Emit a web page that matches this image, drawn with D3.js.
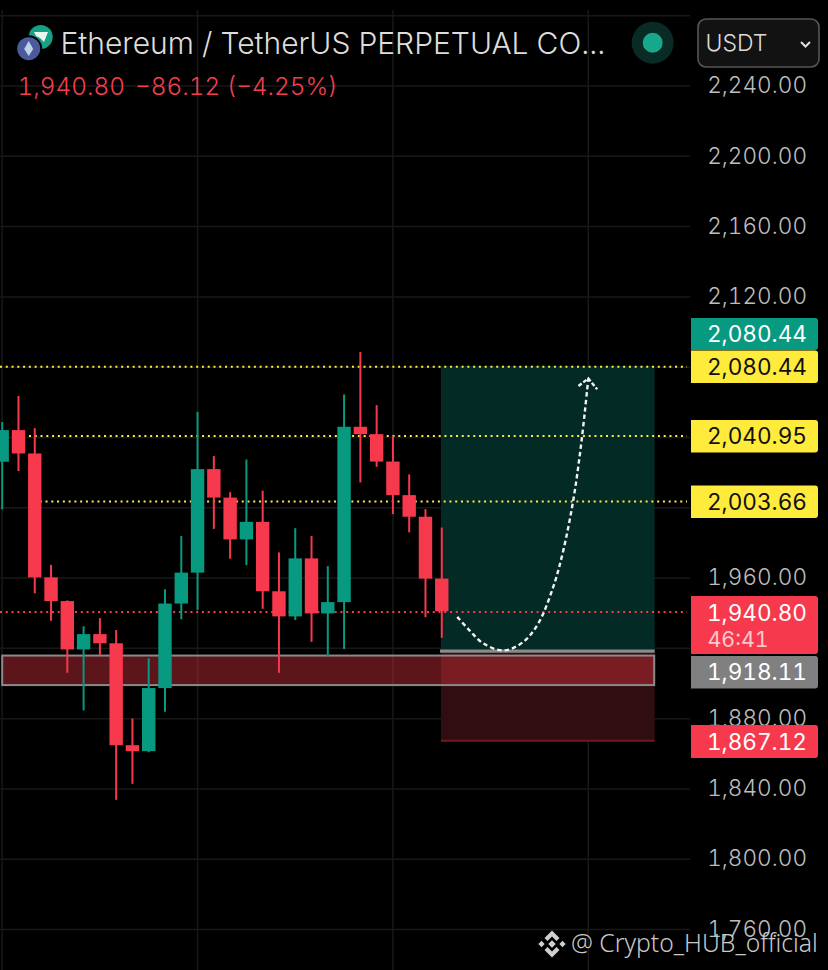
<!DOCTYPE html>
<html><head><meta charset="utf-8">
<script src="https://cdn.jsdelivr.net/npm/d3@7"></script>
<style>html,body{margin:0;padding:0;background:#000;overflow:hidden}svg{display:block}text{font-family:Inter,sans-serif;font-variant-numeric:tabular-nums;font-feature-settings:"tnum" 1}</style>
</head><body><svg id="c" width="828" height="970"></svg>
<script>
const opens  = [2025.9,2043.9,2030.6,1960.1,1946.6,1919.1,1927.8,1922.6,1864.6,1861.2,1897.1,1945.2,1962.8,2021.7,2005.5,1981.7,1991.7,1952.2,1937.9,1970.9,1939.6,1946.0,2045.8,2041.6,2026.0,2006.9,1994.6,1959.4];
const closes = [2043.9,2030.6,1960.1,1946.6,1919.1,1927.8,1922.6,1864.6,1861.2,1897.1,1945.2,1962.8,2021.7,2005.5,1981.7,1991.7,1952.2,1937.9,1970.9,1939.6,1946.0,2045.8,2041.6,2026.0,2006.9,1994.6,1959.4,1940.8];
const highs  = [2048.5,2063.3,2045.0,1967.2,1947.0,1932.3,1936.9,1930.1,1879.8,1914.1,1953.4,1983.6,2054.3,2029.1,2008.6,2027.2,2009.4,1974.3,1988.1,1983.6,1966.5,2064.2,2088.3,2058.1,2040.5,2018.7,1998.9,1988.5];
const lows   = [1998.8,2020.6,1951.0,1935.4,1905.8,1884.4,1916.0,1833.5,1842.6,1860.6,1883.6,1936.2,1941.6,1987.7,1970.7,1967.1,1942.2,1905.8,1935.8,1923.4,1915.3,1919.3,2014.1,2023.0,1996.1,1985.7,1937.5,1925.7];
const gridPrices = [2280,2240,2200,2160,2120,2080,2040,2000,1960,1920,1880,1840,1800,1760];
const tickLabels = [2240,2200,2160,2120,1960,1880,1840,1800,1760];
const gridBars = [0,12,24,36];
const pathBars   = [27.95,28.73,29.55,30.82,32.01,32.93,33.85,34.47,35.08,35.49,35.8,36.0];
const pathPrices = [1937.6,1929.7,1922.5,1918.5,1923.4,1933.9,1954.7,1975.6,2004.1,2030.6,2055.3,2073.3];
const headBars   = [35.4,36.0,36.55];
const headPrices = [2069,2073.3,2067.1];
const target = 2080.44, mid = 2040.95, low = 2003.66, last = 1940.80, entry = 1918.11, stop = 1867.12;
const zoneTop = 1915.6, zoneBottom = 1898.8;
const RED="#f7394d", GREEN="#089981", YELLOW="#ffeb3b", GREY="#808080";

const svg=d3.select("#c");
const x=d3.scaleLinear().domain([0,40]).range([2.2,653.4]);
const y=d3.scaleLinear().domain([2240,1760]).range([85.5,929]);
const fmt=d3.format(",.2f");
const W=690;

// grid
svg.append("g").selectAll("line").data(gridPrices).join("line")
 .attr("x1",0).attr("x2",W).attr("y1",d=>y(d)+.5).attr("y2",d=>y(d)+.5).attr("stroke","#181818").attr("stroke-width",1.5);
svg.append("g").selectAll("line").data(gridBars).join("line")
 .attr("x1",d=>x(d)).attr("x2",d=>x(d)).attr("y1",10).attr("y2",970).attr("stroke","#181818").attr("stroke-width",1.5);

// position boxes
const bx0=x(26.95), bx1=x(40.08);
svg.append("rect").attr("x",bx0).attr("width",bx1-bx0).attr("y",y(target)).attr("height",y(entry)-y(target)).attr("fill","#032a24");
svg.append("rect").attr("x",bx0).attr("width",bx1-bx0).attr("y",y(entry)).attr("height",y(stop)-y(entry)).attr("fill","#300d10");
svg.append("line").attr("x1",bx0).attr("x2",bx1).attr("y1",y(stop)).attr("y2",y(stop)).attr("stroke","#6e1a22").attr("stroke-width",2);

// dotted levels
const dotted=[[target,YELLOW,0],[mid,YELLOW,29],[low,YELLOW,34],[last,RED,0]];
svg.append("g").attr("transform","translate(0,0.8)").selectAll("line").data(dotted).join("line")
 .attr("x1",d=>d[2]).attr("x2",W-3).attr("y1",d=>y(d[0])).attr("y2",d=>y(d[0]))
 .attr("stroke",d=>d[1]).attr("stroke-width",2).attr("stroke-dasharray","2 3.77");

// zone
svg.append("rect").attr("x",x(0)).attr("width",bx1-x(0)-.5).attr("y",y(zoneTop)).attr("height",y(zoneBottom)-y(zoneTop))
 .attr("fill","rgba(242,54,69,.38)").attr("stroke","#8a8a8a").attr("stroke-width",2);

// entry line
svg.append("line").attr("x1",bx0-1).attr("x2",bx1).attr("y1",y(entry)).attr("y2",y(entry)).attr("stroke","#8a8a8a").attr("stroke-width",3.4);

// candles
const idx=d3.range(opens.length);
const col=i=>closes[i]>=opens[i]?GREEN:RED;
const g=svg.append("g");
g.selectAll("line").data(idx).join("line")
 .attr("x1",x).attr("x2",x).attr("y1",i=>y(highs[i])).attr("y2",i=>y(lows[i])).attr("stroke",col).attr("stroke-width",2);
g.selectAll("rect").data(idx).join("rect")
 .attr("x",i=>x(i)-6.7).attr("width",13.4)
 .attr("y",i=>y(Math.max(opens[i],closes[i]))).attr("height",i=>Math.abs(y(opens[i])-y(closes[i])))
 .attr("fill",col);

// projected path
const line=d3.line().curve(d3.curveCatmullRom).x(d=>x(d[0])).y(d=>y(d[1]));
svg.append("path").attr("d",line(d3.zip(pathBars,pathPrices))).attr("fill","none").attr("stroke","#f2f2f2").attr("stroke-width",2.4).attr("stroke-dasharray","4.5 3");
svg.append("path").attr("d",d3.line().x(d=>x(d[0])).y(d=>y(d[1]))(d3.zip(headBars,headPrices))).attr("fill","none").attr("stroke","#f2f2f2").attr("stroke-width",2.4).attr("stroke-dasharray","4 2");

// axis
const axis=d3.axisRight(y).tickValues(tickLabels).tickFormat(fmt).tickSize(0).tickPadding(117);
const ag=svg.append("g").attr("transform",`translate(${W},0)`).call(axis);
ag.select(".domain").remove();
ag.selectAll("text").attr("text-anchor","end").attr("fill","#bdbdbd").style("font-size","22.6px").style("font-family","Inter,sans-serif").style("font-weight","300");

// price labels
const labels=[[target,GREEN,"#fff",318,32],[target,YELLOW,"#111",350.5,32.5],[mid,YELLOW,"#111",420,32.5],[low,YELLOW,"#111",485.5,32.5],[entry,GREY,"#fff",656,32.5],[stop,RED,"#fff",725,33]];
const lab=svg.append("g");
function tag(top,h,fill){lab.append("path").attr("d",`M691,${top}H815a3,3 0 0 1 3,3V${top+h-3}a3,3 0 0 1 -3,3H691Z`).attr("fill",fill);}
function txt(s,yy,fill){lab.append("text").attr("x",807).attr("y",yy).attr("text-anchor","end").attr("fill",fill).style("font-size","22.6px").text(s);}
labels.forEach(l=>{tag(l[3],l[4],l[1]);txt(fmt(l[0]),l[3]+l[4]/2+8.2,l[2]);});
tag(596,58,RED);
txt(fmt(last),620.5,"#fff");
lab.append("text").attr("x",707.5).attr("y",646.5).attr("fill","#fff").attr("opacity",.72).style("font-size","21.4px").text("46:41");

// header
svg.append("circle").attr("cx",40.7).attr("cy",37).attr("r",12).attr("fill","#16a085");
svg.append("path").attr("d","M34,32H48L44,42L40,38L36,36Z").attr("fill","#e8f5f1");
svg.append("circle").attr("cx",28.7).attr("cy",48.7).attr("r",13.5).attr("fill","#000");
svg.append("circle").attr("cx",28.7).attr("cy",48.7).attr("r",11.5).attr("fill","#4a5a9c");
svg.append("path").attr("d","M28.7,41L33.2,49L28.7,56L24.2,49Z").attr("fill","#bcd4e8");
svg.append("text").attr("x",60.5).attr("y",54).attr("fill","#dcdcdc").style("font-size","30px").style("font-weight","300").text("Ethereum / TetherUS PERPETUAL CO...");
svg.append("text").attr("x",17.5).attr("y",95).attr("fill","#f23f4f").style("font-size","24.3px").style("font-weight","300").text("1,940.80");
svg.append("text").attr("x",135).attr("y",95).attr("fill","#f23f4f").style("font-size","24.3px").style("font-weight","300").text("\u221286.12 (\u22124.25%)");
svg.append("circle").attr("cx",652.7).attr("cy",42.7).attr("r",21).attr("fill","#0a2a25");
svg.append("circle").attr("cx",652.7).attr("cy",42.7).attr("r",10).attr("fill","#17a78b");
svg.append("rect").attr("x",698).attr("y",19).attr("width",121).attr("height",48).attr("rx",8).attr("fill","#121212").attr("stroke","#565656").attr("stroke-width",1.6);
svg.append("text").attr("x",705.5).attr("y",51).attr("fill","#dcdcdc").style("font-size","23px").style("font-weight","300").text("USDT");
svg.append("path").attr("d","M801,42L805.5,46.5L810,42").attr("fill","none").attr("stroke","#e0e0e0").attr("stroke-width",2);

// watermark
const wm=svg.append("g").attr("fill","#cfcfcf");
wm.append("path").attr("d","M552,930.5l7.5,7.5-3,3-4.5-4.5-4.5,4.5-3-3ZM552,957.5l-7.5-7.5 3-3 4.5,4.5 4.5-4.5 3,3ZM538.3,944l3.2-3.2 3.2,3.2-3.2,3.2ZM559.3,944l3.2-3.2 3.2,3.2-3.2,3.2ZM552,940.2l3.8,3.8-3.8,3.8-3.8-3.8Z");
wm.append("text").attr("x",571).attr("y",952).style("font-family","'Noto Sans',sans-serif").style("font-size","24.7px").style("font-weight","300").attr("fill","#c9c9c9").text("@ Crypto_HUB_official");
</script></body></html>
